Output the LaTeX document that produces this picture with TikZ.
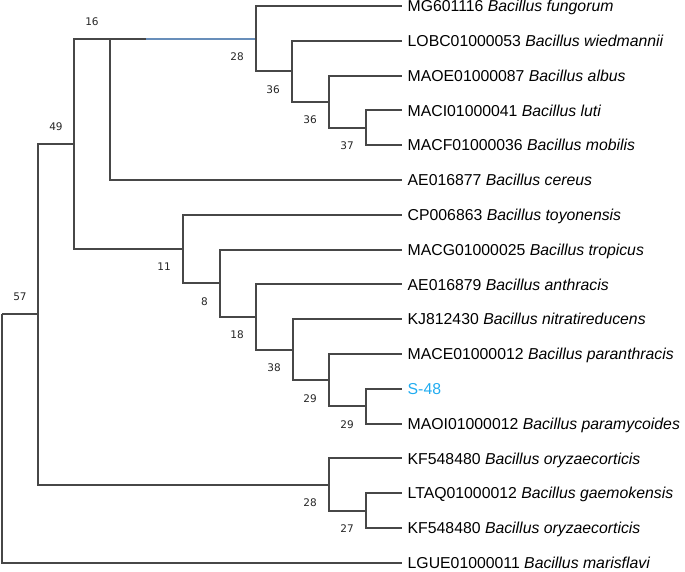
\documentclass[tikz,border=0pt]{standalone}
\usepackage{fontspec}
\setmainfont{Liberation Sans}
\newfontfamily\bootfont{DejaVu Sans}
\usetikzlibrary{positioning, calc}
\definecolor{branchgrey}{HTML}{474747}
\definecolor{branchblue}{RGB}{104,142,186}
\definecolor{isolateblue}{RGB}{33,172,240}
\tikzset{
  branch/.style={draw=branchgrey, line width=1.9pt},
  taxon/.style={
    anchor=west, inner xsep=5.5pt, inner ysep=0pt,
    text height=11.3pt, text depth=0pt,
    font=\fontsize{15.8}{18}\selectfont
  },
  bootval/.style={inner sep=0pt, font=\bootfont\fontsize{10.5}{12}\selectfont, text=black!85},
  bootbelow/.style={bootval, anchor=east, shift={(-12,18)}}
}

\begin{document}
\begin{tikzpicture}[x=1pt, y=-1pt]
\useasboundingbox (0,0) rectangle (685,571);

% tips
\foreach \taxa [count=\i] in {
  {MG601116 \textit{Bacillus fungorum}},
  {LOBC01000053 \textit{Bacillus wiedmannii}},
  {MAOE01000087 \textit{Bacillus albus}},
  {MACI01000041 \textit{Bacillus luti}},
  {MACF01000036 \textit{Bacillus mobilis}},
  {AE016877 \textit{Bacillus cereus}},
  {CP006863 \textit{Bacillus toyonensis}},
  {MACG01000025 \textit{Bacillus tropicus}},
  {AE016879 \textit{Bacillus anthracis}},
  {KJ812430 \textit{Bacillus nitratireducens}},
  {MACE01000012 \textit{Bacillus paranthracis}},
  {\textcolor{isolateblue}{S-48}},
  {MAOI01000012 \textit{Bacillus paramycoides}},
  {KF548480 \textit{Bacillus oryzaecorticis}},
  {LTAQ01000012 \textit{Bacillus gaemokensis}},
  {KF548480 \textit{Bacillus oryzaecorticis}},
  {LGUE01000011 \textit{Bacillus marisflavi}}}
  \node[taxon] (t\i) at (402, {6+(\i-1)*34.8}) {\taxa};

% internal nodes
\coordinate (n57)  at (2, 314.3);
\coordinate (n49)  at (38, 314.3);
\coordinate (n16)  at (74, 143.8);
\coordinate (nX)   at (110, 38.6);
\coordinate (tint) at (146, 38.6);
\coordinate (n28a) at (256, 38.6);
\coordinate (n36a) at (292, 71.3);
\coordinate (n36b) at (329, 101.7);
\coordinate (n37)  at (366, 127.8);
\coordinate (n11)  at (183, 249.1);
\coordinate (n8)   at (220, 283.3);
\coordinate (n18)  at (256, 317.1);
\coordinate (n38)  at (293, 349.7);
\coordinate (n29a) at (329, 380.2);
\coordinate (n29b) at (366, 406.2);
\coordinate (n28b) at (329, 484.7);
\coordinate (n27)  at (366, 510.8);

% branches
\draw[branch] (n57) -- (n49);
\draw[branch] (n57) |- (t17.west);
\draw[branch] (n49) |- (n16);
\draw[branch] (n49) |- (n28b);
\draw[branch] (n16) |- (nX);
\draw[branch] (n16) |- (n11);
\draw[branch] (nX) -- (tint);
\draw[branch, draw=branchblue] (tint) -- (n28a);
\draw[branch] (nX) |- (t6.west);

\draw[branch] (n28a) |- (t1.west);
\draw[branch] (n28a) |- (n36a);
\draw[branch] (n36a) |- (t2.west);
\draw[branch] (n36a) |- (n36b);
\draw[branch] (n36b) |- (t3.west);
\draw[branch] (n36b) |- (n37);
\draw[branch] (n37) |- (t4.west);
\draw[branch] (n37) |- (t5.west);

\draw[branch] (n11) |- (t7.west);
\draw[branch] (n11) |- (n8);
\draw[branch] (n8) |- (t8.west);
\draw[branch] (n8) |- (n18);
\draw[branch] (n18) |- (t9.west);
\draw[branch] (n18) |- (n38);
\draw[branch] (n38) |- (t10.west);
\draw[branch] (n38) |- (n29a);
\draw[branch] (n29a) |- (t11.west);
\draw[branch] (n29a) |- (n29b);
\draw[branch] (n29b) |- (t12.west);
\draw[branch] (n29b) |- (t13.west);

\draw[branch] (n28b) |- (t14.west);
\draw[branch] (n28b) |- (n27);
\draw[branch] (n27) |- (t15.west);
\draw[branch] (n27) |- (t16.west);

% bootstrap values
\node[bootval, above=13pt] (b57) at ($(n57)!.5!(n49)$) {57};
\node[bootval, above=13pt] (b49) at ($(n49 |- n16)!.5!(n16)$) {49};
\node[bootval, above=13pt] (b16) at ($(n16 |- nX)!.5!(nX)$) {16};
\node[bootbelow] (b28a) at (n28a) {28};
\node[bootbelow] (b36a) at (n36a) {36};
\node[bootbelow] (b36b) at (n36b) {36};
\node[bootbelow] (b37)  at (n37)  {37};
\node[bootbelow] (b11)  at (n11)  {11};
\node[bootbelow] (b8)   at (n8)   {8};
\node[bootbelow] (b18)  at (n18)  {18};
\node[bootbelow] (b38)  at (n38)  {38};
\node[bootbelow] (b29a) at (n29a) {29};
\node[bootbelow] (b29b) at (n29b) {29};
\node[bootbelow] (b28b) at (n28b) {28};
\node[bootbelow] (b27)  at (n27)  {27};
\end{tikzpicture}
\end{document}
